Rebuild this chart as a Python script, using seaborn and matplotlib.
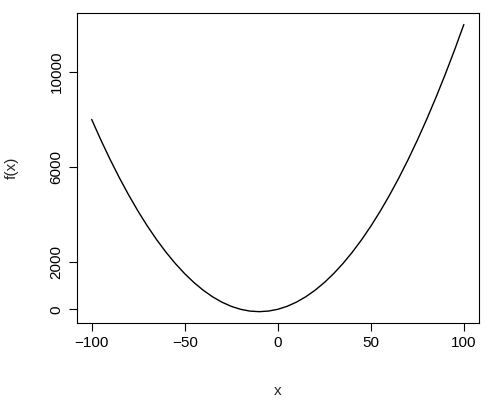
import matplotlib
matplotlib.use("Agg")
import matplotlib.pyplot as plt
import seaborn as sns

x = [-100,-95,-90,-85,-80,-75,-70,-65,-60,-55,-50,-45,-40,-35,-30,-25,-20,-15,-10,-5,0,
     5,10,15,20,25,30,35,40,45,50,55,60,65,70,75,80,85,90,95,100]
fx = [8000,7125,6300,5525,4800,4125,3500,2925,2400,1925,1500,1125,800,525,300,125,0,-75,-100,-75,0,
      125,300,525,800,1125,1500,1925,2400,2925,3500,4125,4800,5525,6300,7125,8000,8925,9900,10925,12000]
xticks = [-100, -50, 0, 50, 100]
yticks = [0, 2000, 6000, 10000]

sns.set_style("white")
plt.rcParams['font.family'] = ['Liberation Sans', 'DejaVu Sans']
fig = plt.figure(figsize=(4.89, 4.07), dpi=100)
ax = fig.add_axes([0.157, 0.206, 0.822, 0.762])
sns.lineplot(x=x, y=fx, ax=ax, color="black", linewidth=1)
ax.set_xlim(-108, 108)
ax.set_ylim(-584, 12484)
ax.set_xticks(xticks)
ax.set_yticks(yticks)
ax.set_yticklabels([str(v) for v in yticks], rotation=90, va="center")
ax.tick_params(axis="both", direction="out", length=6, width=0.8, labelsize=11, colors="black", bottom=True, left=True)
for s in ax.spines.values():
    s.set_color("black"); s.set_linewidth(0.8)
ax.set_xlabel("x", fontsize=11, labelpad=24)
ax.set_ylabel("f(x)", fontsize=11, labelpad=22)
fig.savefig("out.png", dpi=100)
